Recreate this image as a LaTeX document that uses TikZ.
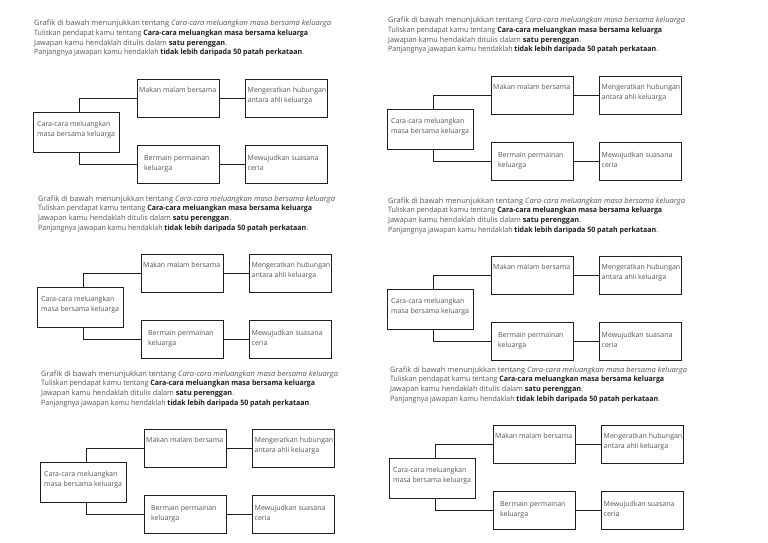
\documentclass[tikz,border=0pt]{standalone}
\usepackage{fontspec}
\setmainfont{Open Sans}
\definecolor{txt}{HTML}{555555}
\definecolor{dark}{HTML}{1E1E1E}
\tikzset{
  hdr/.style={anchor=base west, inner sep=0pt, text=txt, font=\fontsize{7.4}{9.7}\selectfont},
  boxnode/.style={draw=dark, line width=1.1pt, anchor=north west, inner sep=0pt, minimum height=38pt, minimum width=82pt},
  rootbox/.style={boxnode, minimum height=40pt, minimum width=86pt},
  btext/.style={anchor=north west, inner sep=0pt, text=txt, align=left, font=\fontsize{7}{10}\selectfont},
  conn/.style={draw=dark, line width=1.5pt},
  thin conn/.style={draw=dark, line width=1.2pt},
}
\newcommand\bd[1]{\textcolor{dark}{\textbf{#1}}}
\newcommand\fitw[2]{\resizebox{#1}{\height}{#2}}
\newcommand\grafpanel[3]{%
  \begin{scope}[shift={(#2,#3)}]
    \node[hdr] (#1h1) at (1,-86) {\fitw{297pt}{Grafik di bawah menunjukkan tentang \textit{Cara-cara meluangkan masa bersama keluarga}}};
    \node[hdr] (#1h2) at (1,-76.3) {\fitw{274pt}{Tuliskan pendapat kamu tentang \bd{Cara-cara meluangkan masa bersama keluarga}}};
    \node[hdr] (#1h3) at (1,-66.6) {\fitw{193pt}{Jawapan kamu hendaklah ditulis dalam \bd{satu perenggan}.}};
    \node[hdr] (#1h4) at (1,-57) {\fitw{270pt}{Panjangnya jawapan kamu hendaklah \bd{tidak lebih daripada 50 patah perkataan}.}};
    \node[rootbox] (#1r) at (0,0) {};
    \node[boxnode] (#1m) at (104,-33) {};
    \node[boxnode] (#1g) at (212,-33) {};
    \node[boxnode] (#1b) at (104,33) {};
    \node[boxnode] (#1w) at (212,33) {};
    \node[btext] (#1rt) at (4,9) {Cara-cara meluangkan\\masa bersama keluarga};
    \node[btext] (#1mt) at (106,-25) {Makan malam bersama};
    \node[btext] (#1gt) at (214.5,-25) {Mengeratkan hubungan\\antara ahli keluarga};
    \node[btext] (#1bt) at (111,43) {Bermain permainan\\keluarga};
    \node[btext] (#1wt) at (214.5,43) {Mewujudkan suasana\\ceria};
    \draw[conn] ([xshift=3pt]#1r.north) |- (#1m.west);
    \draw[conn] ([xshift=3pt]#1r.south) |- (#1b.west);
    \draw[thin conn] (#1m.east) -- (#1g.west);
    \draw[thin conn] (#1b.east) -- (#1w.west);
  \end{scope}}
\begin{document}
\begin{tikzpicture}[x=1pt,y=-1pt]
  \useasboundingbox[fill=white] (0,0) rectangle (768,543);
  \grafpanel{a}{33}{112}
  \grafpanel{b}{387}{109}
  \grafpanel{c}{37}{287}
  \grafpanel{d}{387}{289}
  \grafpanel{e}{40}{462}
  \grafpanel{f}{389}{458}
\end{tikzpicture}
\end{document}
